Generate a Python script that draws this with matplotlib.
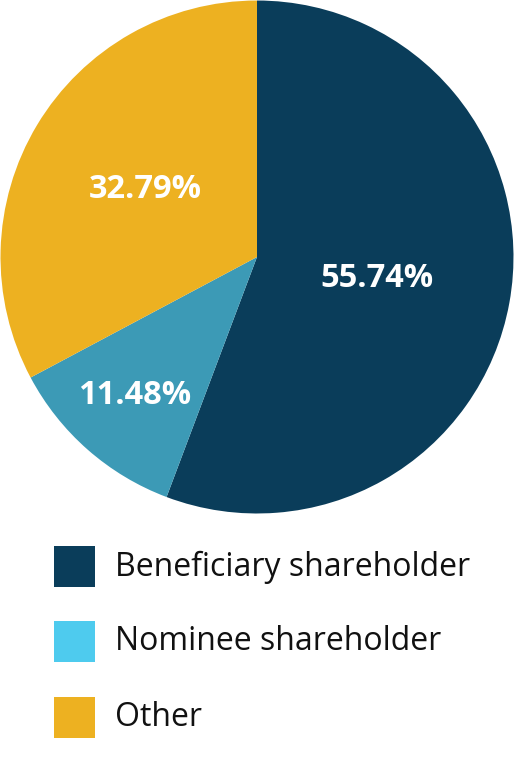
import matplotlib
matplotlib.use("Agg")
import matplotlib.pyplot as plt
from matplotlib.patches import Rectangle
import numpy as np

categories = ["Beneficiary shareholder", "Nominee shareholder", "Other"]
values = [55.74, 11.48, 32.79]
pie_colors = ["#0a3d5a", "#3c9ab6", "#edb121"]
legend_colors = ["#0a3d5a", "#4ecbee", "#edb121"]
label_dist = [0.475, 0.72, 0.51]

W, H = 514, 762
fig = plt.figure(figsize=(W / 100, H / 100), dpi=100)
fig.patch.set_facecolor("white")

ax = fig.add_axes([0, 1 - 514 / H, 1, 514 / H])
wedges, _ = ax.pie(values, colors=pie_colors, startangle=90, counterclock=False,
                   radius=1.0, wedgeprops=dict(linewidth=0))
ax.set_xlim(-1.002, 1.002)
ax.set_ylim(-1.002, 1.002)
ax.set_aspect("equal")
ax.axis("off")

FAM = "Open Sans"
for w, v, d in zip(wedges, values, label_dist):
    mid = np.deg2rad((w.theta1 + w.theta2) / 2)
    ax.text(d * np.cos(mid), d * np.sin(mid), f"{v:.2f}%", ha="center", va="center",
            color="white", fontsize=23.5, fontweight="bold", family=FAM)

sq = 41
ys = [566, 641, 717]
for y, c, lab in zip(ys, legend_colors, categories):
    fig.patches.append(Rectangle((54 / W, 1 - (y + sq / 2) / H), sq / W, sq / H,
                                 transform=fig.transFigure, facecolor=c, edgecolor="none"))
    fig.text(115 / W, 1 - (y + 1) / H, lab, ha="left", va="center", fontsize=23,
             family=FAM, color="#111111")

fig.savefig("out.png", dpi=100, facecolor="white")
